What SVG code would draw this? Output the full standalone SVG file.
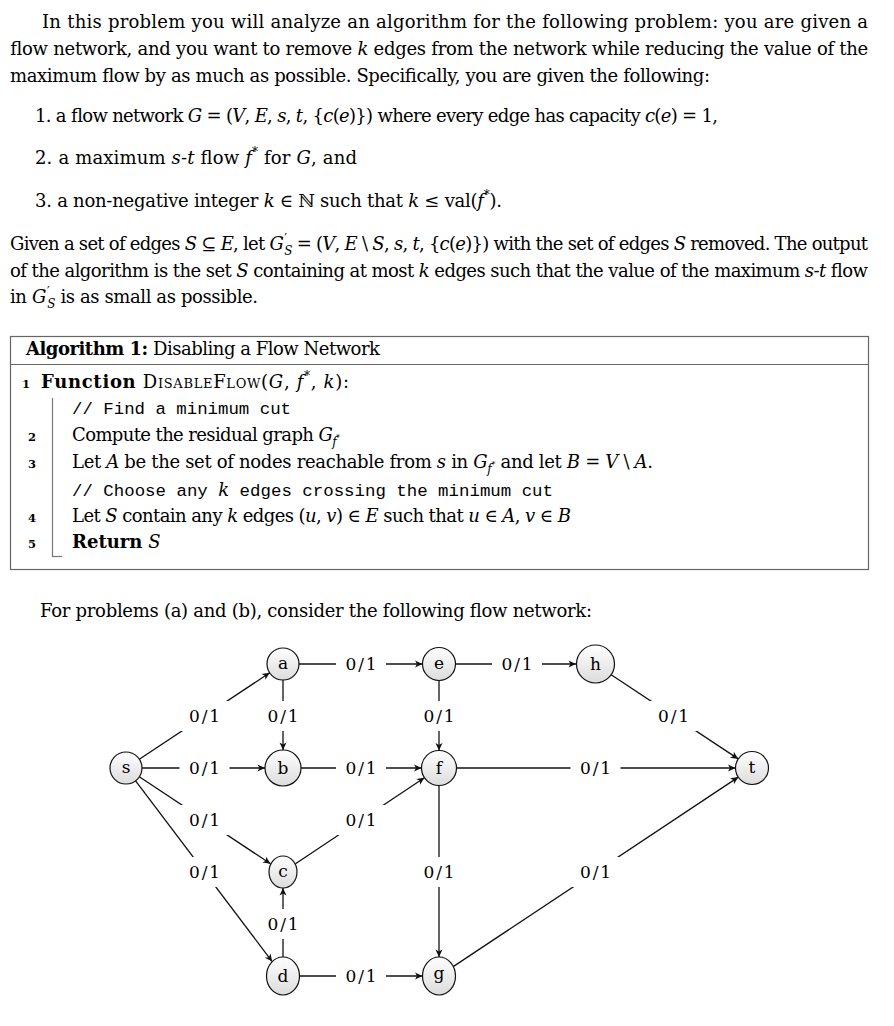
<svg xmlns="http://www.w3.org/2000/svg" width="894" height="1026" viewBox="0 0 894 1026">
<style>
.t{font-family:"DejaVu Serif","Liberation Serif",serif;font-size:18px;fill:#000}
.i{font-style:italic}
.b{font-weight:bold}
.sm{font-size:12px}
.mono{font-family:"Liberation Mono","Courier New",monospace;font-size:17.4px;fill:#000}
.num{font-family:"DejaVu Serif","Liberation Serif",serif;font-size:11.5px;font-weight:bold;fill:#000}
.node{stroke:#111;stroke-width:1.2;fill:url(#ng)}
.nl{font-family:"DejaVu Serif","Liberation Serif",serif;font-size:17px;fill:#000;text-anchor:middle}
.edge{stroke:#111;stroke-width:1.3;fill:none}
.lbg{fill:#fff}
.lb{font-family:"DejaVu Serif","Liberation Serif",serif;font-size:17px;fill:#000;text-anchor:middle}
</style>
<defs>
<linearGradient id="ng" x1="0" y1="0" x2="0" y2="1">
<stop offset="0" stop-color="#ffffff"/>
<stop offset="1" stop-color="#dcdcdc"/>
</linearGradient>
<marker id="arr" viewBox="-8 -4 9 8" refX="0" refY="0" markerWidth="9" markerHeight="8" markerUnits="userSpaceOnUse" orient="auto">
<path d="M-7.5,-3.5 L0,0 L-7.5,3.5 L-5.5,0 z" fill="#111"/>
</marker>
</defs>
<rect width="894" height="1026" fill="#fff"/>

<g id="intro">
<text class="t" x="42" y="28" textLength="826" lengthAdjust="spacing">In this problem you will analyze an algorithm for the following problem: you are given a</text>
<text class="t" x="10" y="55" textLength="858" lengthAdjust="spacing">flow network, and you want to remove <tspan class="i">k</tspan> edges from the network while reducing the value of the</text>
<text class="t" x="10" y="82" textLength="700" lengthAdjust="spacing">maximum flow by as much as possible. Specifically, you are given the following:</text>
<text class="t" x="35" y="122" textLength="683" lengthAdjust="spacing">1.  a flow network <tspan class="i">G</tspan> = (<tspan class="i">V</tspan>, <tspan class="i">E</tspan>, <tspan class="i">s</tspan>, <tspan class="i">t</tspan>, {<tspan class="i">c</tspan>(<tspan class="i">e</tspan>)}) where every edge has capacity <tspan class="i">c</tspan>(<tspan class="i">e</tspan>) = 1,</text>
<text class="t" x="35" y="164" textLength="322" lengthAdjust="spacing">2.  a maximum <tspan class="i">s</tspan>-<tspan class="i">t</tspan> flow <tspan class="i">f</tspan><tspan class="sm" dy="-8">*</tspan><tspan dy="8"> for </tspan><tspan class="i">G</tspan>, and</text>
<text class="t" x="35" y="207" textLength="467" lengthAdjust="spacing">3.  a non-negative integer <tspan class="i">k</tspan> ∈ ℕ such that <tspan class="i">k</tspan> ≤ val(<tspan class="i">f</tspan><tspan class="sm" dy="-8">*</tspan><tspan dy="8">).</tspan></text>
<text class="t" x="10" y="250" textLength="858" lengthAdjust="spacing">Given a set of edges <tspan class="i">S</tspan> ⊆ <tspan class="i">E</tspan>, let <tspan class="i">G</tspan><tspan class="sm" dx="1" dy="-7">′</tspan><tspan class="sm i" dx="-2" dy="12">S</tspan><tspan dy="-5"> = (</tspan><tspan class="i">V</tspan>, <tspan class="i">E</tspan> \ <tspan class="i">S</tspan>, <tspan class="i">s</tspan>, <tspan class="i">t</tspan>, {<tspan class="i">c</tspan>(<tspan class="i">e</tspan>)}) with the set of edges <tspan class="i">S</tspan> removed. The output</text>
<text class="t" x="10" y="277" textLength="858" lengthAdjust="spacing">of the algorithm is the set <tspan class="i">S</tspan> containing at most <tspan class="i">k</tspan> edges such that the value of the maximum <tspan class="i">s</tspan>-<tspan class="i">t</tspan> flow</text>
<text class="t" x="10" y="303" textLength="248" lengthAdjust="spacing">in <tspan class="i">G</tspan><tspan class="sm" dx="1" dy="-7">′</tspan><tspan class="sm i" dx="-2" dy="12">S</tspan><tspan dy="-5"> is as small as possible.</tspan></text>
</g>

<g id="algorithm">
<rect x="10.5" y="336.5" width="858" height="233" fill="none" stroke="#666" stroke-width="1.2"/>
<line x1="10.5" y1="364.5" x2="868.5" y2="364.5" stroke="#666" stroke-width="1.2"/>
<text class="t" x="26" y="355" textLength="354" lengthAdjust="spacing"><tspan class="b">Algorithm 1:</tspan> Disabling a Flow Network</text>
<text class="num" x="22" y="388">1</text>
<text class="t" x="41" y="388" textLength="308" lengthAdjust="spacing"><tspan class="b">Function</tspan> <tspan style="font-variant:small-caps">DisableFlow</tspan>(<tspan class="i">G</tspan>, <tspan class="i">f</tspan><tspan class="sm" dy="-8">*</tspan><tspan dy="8">, </tspan><tspan class="i">k</tspan>):</text>
<line x1="52.5" y1="398" x2="52.5" y2="557" stroke="#777" stroke-width="1.2"/>
<line x1="52" y1="556.5" x2="62" y2="556.5" stroke="#777" stroke-width="1.2"/>
<text class="mono" x="72" y="414" textLength="219" lengthAdjust="spacing">// Find a minimum cut</text>
<text class="num" x="28" y="441">2</text>
<text class="t" x="72" y="441" textLength="268" lengthAdjust="spacing">Compute the residual graph <tspan class="i">G</tspan><tspan class="sm i" dy="5">f</tspan><tspan style="font-size:8px" dy="-6">*</tspan></text>
<text class="num" x="28" y="468">3</text>
<text class="t" x="72" y="468" textLength="581" lengthAdjust="spacing">Let <tspan class="i">A</tspan> be the set of nodes reachable from <tspan class="i">s</tspan> in <tspan class="i">G</tspan><tspan class="sm i" dy="5">f</tspan><tspan style="font-size:8px" dy="-6">*</tspan><tspan dy="1"> and let </tspan><tspan class="i">B</tspan> = <tspan class="i">V</tspan> \ <tspan class="i">A</tspan>.</text>
<text class="mono" x="72" y="496" textLength="481" lengthAdjust="spacing">// Choose any <tspan font-family="DejaVu Serif" font-style="italic" font-size="18">k</tspan> edges crossing the minimum cut</text>
<text class="num" x="28" y="522">4</text>
<text class="t" x="72" y="522" textLength="499" lengthAdjust="spacing">Let <tspan class="i">S</tspan> contain any <tspan class="i">k</tspan> edges (<tspan class="i">u</tspan>, <tspan class="i">v</tspan>) ∈ <tspan class="i">E</tspan> such that <tspan class="i">u</tspan> ∈ <tspan class="i">A</tspan>, <tspan class="i">v</tspan> ∈ <tspan class="i">B</tspan></text>
<text class="num" x="28" y="548">5</text>
<text class="t" x="72" y="548"><tspan class="b">Return</tspan> <tspan class="i">S</tspan></text>
</g>

<text class="t" x="40" y="617" textLength="552" lengthAdjust="spacing">For problems (a) and (b), consider the following flow network:</text>

<g id="connectors">
<line class="edge" x1="139.3" y1="759.2" x2="269.7" y2="672.8" marker-end="url(#arr)"/>
<line class="edge" x1="142" y1="768" x2="265" y2="768" marker-end="url(#arr)"/>
<line class="edge" x1="139.3" y1="776.8" x2="270.5" y2="863.7" marker-end="url(#arr)"/>
<line class="edge" x1="135.6" y1="780.8" x2="272.2" y2="961.6" marker-end="url(#arr)"/>
<line class="edge" x1="299" y1="664" x2="422.5" y2="664" marker-end="url(#arr)"/>
<line class="edge" x1="283" y1="680" x2="283" y2="750" marker-end="url(#arr)"/>
<line class="edge" x1="455.5" y1="664" x2="576" y2="664" marker-end="url(#arr)"/>
<line class="edge" x1="439" y1="680.5" x2="439" y2="750.5" marker-end="url(#arr)"/>
<line class="edge" x1="301" y1="768" x2="421.5" y2="768" marker-end="url(#arr)"/>
<line class="edge" x1="295.5" y1="863.7" x2="424.4" y2="777.7" marker-end="url(#arr)"/>
<line class="edge" x1="283" y1="957" x2="283" y2="888" marker-end="url(#arr)"/>
<line class="edge" x1="299" y1="976" x2="422.5" y2="976" marker-end="url(#arr)"/>
<line class="edge" x1="439" y1="785.5" x2="439" y2="957" marker-end="url(#arr)"/>
<line class="edge" x1="456.5" y1="768" x2="735.5" y2="768" marker-end="url(#arr)"/>
<line class="edge" x1="610.8" y1="674.5" x2="738.2" y2="758.9" marker-end="url(#arr)"/>
<line class="edge" x1="453.2" y1="966.6" x2="738.3" y2="777.1" marker-end="url(#arr)"/>
<g id="edge-labels">
<rect class="lbg" x="179.5" y="701" width="50" height="30"/><text class="lb" x="204.5" y="722" textLength="31">0/1</text>
<rect class="lbg" x="179.5" y="753" width="50" height="30"/><text class="lb" x="204.5" y="774" textLength="31">0/1</text>
<rect class="lbg" x="179.5" y="805" width="50" height="30"/><text class="lb" x="204.5" y="826" textLength="31">0/1</text>
<rect class="lbg" x="179.5" y="857" width="50" height="30"/><text class="lb" x="204.5" y="878" textLength="31">0/1</text>
<rect class="lbg" x="336" y="649" width="50" height="30"/><text class="lb" x="361" y="670" textLength="31">0/1</text>
<rect class="lbg" x="258" y="701" width="50" height="30"/><text class="lb" x="283" y="722" textLength="31">0/1</text>
<rect class="lbg" x="492" y="649" width="50" height="30"/><text class="lb" x="517" y="670" textLength="31">0/1</text>
<rect class="lbg" x="414" y="701" width="50" height="30"/><text class="lb" x="439" y="722" textLength="31">0/1</text>
<rect class="lbg" x="336" y="753" width="50" height="30"/><text class="lb" x="361" y="774" textLength="31">0/1</text>
<rect class="lbg" x="336" y="805" width="50" height="30"/><text class="lb" x="361" y="826" textLength="31">0/1</text>
<rect class="lbg" x="258" y="909" width="50" height="30"/><text class="lb" x="283" y="930" textLength="31">0/1</text>
<rect class="lbg" x="336" y="961" width="50" height="30"/><text class="lb" x="361" y="982" textLength="31">0/1</text>
<rect class="lbg" x="414" y="857" width="50" height="30"/><text class="lb" x="439" y="878" textLength="31">0/1</text>
<rect class="lbg" x="570.5" y="753" width="50" height="30"/><text class="lb" x="595.5" y="774" textLength="31">0/1</text>
<rect class="lbg" x="648.5" y="701" width="50" height="30"/><text class="lb" x="673.5" y="722" textLength="31">0/1</text>
<rect class="lbg" x="570.5" y="857" width="50" height="30"/><text class="lb" x="595.5" y="878" textLength="31">0/1</text>
</g>
</g>

<g id="node-s"><circle class="node" cx="126" cy="768" r="16"/><text class="nl" x="126" y="773">s</text></g>
<g id="node-a"><circle class="node" cx="283" cy="664" r="16"/><text class="nl" x="283" y="669">a</text></g>
<g id="node-b"><circle class="node" cx="283" cy="768" r="18"/><text class="nl" x="283" y="774">b</text></g>
<g id="node-c"><ellipse class="node" cx="283" cy="872" rx="14" ry="16"/><text class="nl" x="283" y="877">c</text></g>
<g id="node-d"><ellipse class="node" cx="283" cy="976" rx="16.5" ry="19"/><text class="nl" x="283" y="982">d</text></g>
<g id="node-e"><circle class="node" cx="439" cy="664" r="16.5"/><text class="nl" x="439" y="669">e</text></g>
<g id="node-f"><circle class="node" cx="439" cy="768" r="17.5"/><text class="nl" x="439" y="774">f</text></g>
<g id="node-g"><ellipse class="node" cx="439" cy="976" rx="16.5" ry="19"/><text class="nl" x="439" y="979">g</text></g>
<g id="node-h"><circle class="node" cx="595.5" cy="664" r="19"/><text class="nl" x="595.5" y="670">h</text></g>
<g id="node-t"><circle class="node" cx="752" cy="768" r="16.5"/><text class="nl" x="752" y="773">t</text></g>
</svg>
